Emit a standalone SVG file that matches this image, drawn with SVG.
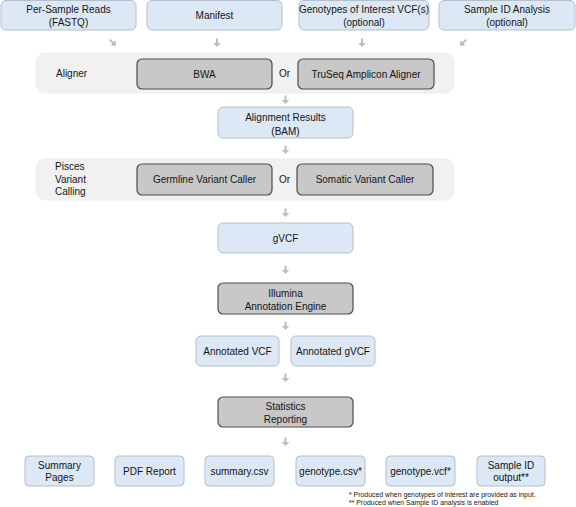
<svg xmlns="http://www.w3.org/2000/svg" width="576" height="507" viewBox="0 0 576 507">
<defs>
<style>
.io{fill:#dce8f6;stroke:#b5bfca;stroke-width:1}
.tool{fill:#c8c8c8;stroke:#4d4d4d;stroke-width:1.2}
.band{fill:#f1f1f1;stroke:#ececec;stroke-width:0.8}
text{font-family:"Liberation Sans",Arial,sans-serif;font-size:10px;fill:#141414}
.c{text-anchor:middle}
.fn{font-size:6.9px}
.arr{fill:#bcbcbc}
</style>
<g id="arrow"><rect x="-1" y="-4.5" width="2" height="5"/><polygon points="-3.8,0 3.8,0 0,4"/></g>
</defs>
<rect width="576" height="507" fill="#ffffff"/>

<g id="input-fastq"><rect class="io" x="1" y="0.5" width="135" height="29.5" rx="5"/><text class="c" x="68.5" y="13">Per-Sample Reads</text><text class="c" x="68.5" y="26">(FASTQ)</text></g>
<g id="input-manifest"><rect class="io" x="147" y="0.5" width="135" height="29.5" rx="5"/><text class="c" x="214.5" y="19">Manifest</text></g>
<g id="input-genotypes"><rect class="io" x="299" y="0.5" width="130" height="29.5" rx="5"/><text class="c" x="364" y="13">Genotypes of Interest VCF(s)</text><text class="c" x="364" y="26">(optional)</text></g>
<g id="input-sampleid"><rect class="io" x="439" y="0.5" width="136" height="29.5" rx="5"/><text class="c" x="507" y="13">Sample ID Analysis</text><text class="c" x="507" y="26">(optional)</text></g>

<g id="aligner-band"><rect class="band" x="36" y="53" width="418" height="40" rx="9"/><text x="56" y="76.5">Aligner</text><text class="c" x="284.5" y="77">Or</text></g>
<g id="bwa"><rect class="tool" x="137" y="59" width="135" height="30" rx="5"/><text class="c" x="204.5" y="77.5">BWA</text></g>
<g id="truseq"><rect class="tool" x="298" y="59" width="136" height="30" rx="5"/><text class="c" x="366" y="77.5">TruSeq Amplicon Aligner</text></g>

<g id="bam"><rect class="io" x="218" y="107" width="135" height="31" rx="5"/><text class="c" x="285.5" y="121">Alignment Results</text><text class="c" x="285.5" y="134.5">(BAM)</text></g>

<g id="pisces-band"><rect class="band" x="36" y="159" width="418" height="41" rx="9"/><text x="55" y="170">Pisces</text><text x="55" y="182.5">Variant</text><text x="55" y="195">Calling</text><text class="c" x="284.5" y="183">Or</text></g>
<g id="germline"><rect class="tool" x="137" y="164" width="135" height="31" rx="5"/><text class="c" x="204.5" y="183">Germline Variant Caller</text></g>
<g id="somatic"><rect class="tool" x="297" y="164" width="136" height="31" rx="5"/><text class="c" x="365" y="183">Somatic Variant Caller</text></g>

<g id="gvcf"><rect class="io" x="218" y="223" width="135" height="30" rx="5"/><text class="c" x="285.5" y="241.5">gVCF</text></g>

<g id="annotation-engine"><rect class="tool" x="218" y="283" width="135" height="31" rx="5"/><text class="c" x="285.5" y="296.5">Illumina</text><text class="c" x="285.5" y="310">Annotation Engine</text></g>

<g id="annotated-vcf"><rect class="io" x="196" y="336" width="83" height="30" rx="5"/><text class="c" x="237.5" y="354.5">Annotated VCF</text></g>
<g id="annotated-gvcf"><rect class="io" x="291" y="336" width="84" height="30" rx="5"/><text class="c" x="333" y="354.5">Annotated gVCF</text></g>

<g id="statistics"><rect class="tool" x="218" y="397" width="135" height="30" rx="5"/><text class="c" x="285.5" y="409.5">Statistics</text><text class="c" x="285.5" y="422.5">Reporting</text></g>

<g id="summary-pages"><rect class="io" x="25" y="456" width="69" height="30" rx="4"/><text class="c" x="59.5" y="468.5">Summary</text><text class="c" x="59.5" y="481">Pages</text></g>
<g id="pdf-report"><rect class="io" x="115" y="456" width="69" height="30" rx="4"/><text class="c" x="149.5" y="474.5">PDF Report</text></g>
<g id="summary-csv"><rect class="io" x="205" y="456" width="69" height="30" rx="4"/><text class="c" x="239.5" y="474.5">summary.csv</text></g>
<g id="genotype-csv"><rect class="io" x="296" y="456" width="69" height="30" rx="4"/><text class="c" x="330.5" y="474.5">genotype.csv*</text></g>
<g id="genotype-vcf"><rect class="io" x="386" y="456" width="69" height="30" rx="4"/><text class="c" x="420.5" y="474.5">genotype.vcf*</text></g>
<g id="sampleid-output"><rect class="io" x="477" y="456" width="68" height="30" rx="4"/><text class="c" x="511" y="468.5">Sample ID</text><text class="c" x="511" y="481">output**</text></g>

<g id="footnotes"><text class="fn" x="349" y="497">* Produced when genotypes of interest are provided as input.</text><text class="fn" x="349" y="505">** Produced when Sample ID analysis is enabled</text></g>

<g id="connectors" class="arr">
<use href="#arrow" transform="translate(113,43) rotate(-45)"/>
<use href="#arrow" transform="translate(217,43)"/>
<use href="#arrow" transform="translate(362,43)"/>
<use href="#arrow" transform="translate(463,43) rotate(45)"/>
<use href="#arrow" transform="translate(285.5,100)"/>
<use href="#arrow" transform="translate(285.5,150)"/>
<use href="#arrow" transform="translate(285.5,213)"/>
<use href="#arrow" transform="translate(285.5,270)"/>
<use href="#arrow" transform="translate(285.5,326)"/>
<use href="#arrow" transform="translate(285.5,378)"/>
<use href="#arrow" transform="translate(285.5,442)"/>
</g>
</svg>
